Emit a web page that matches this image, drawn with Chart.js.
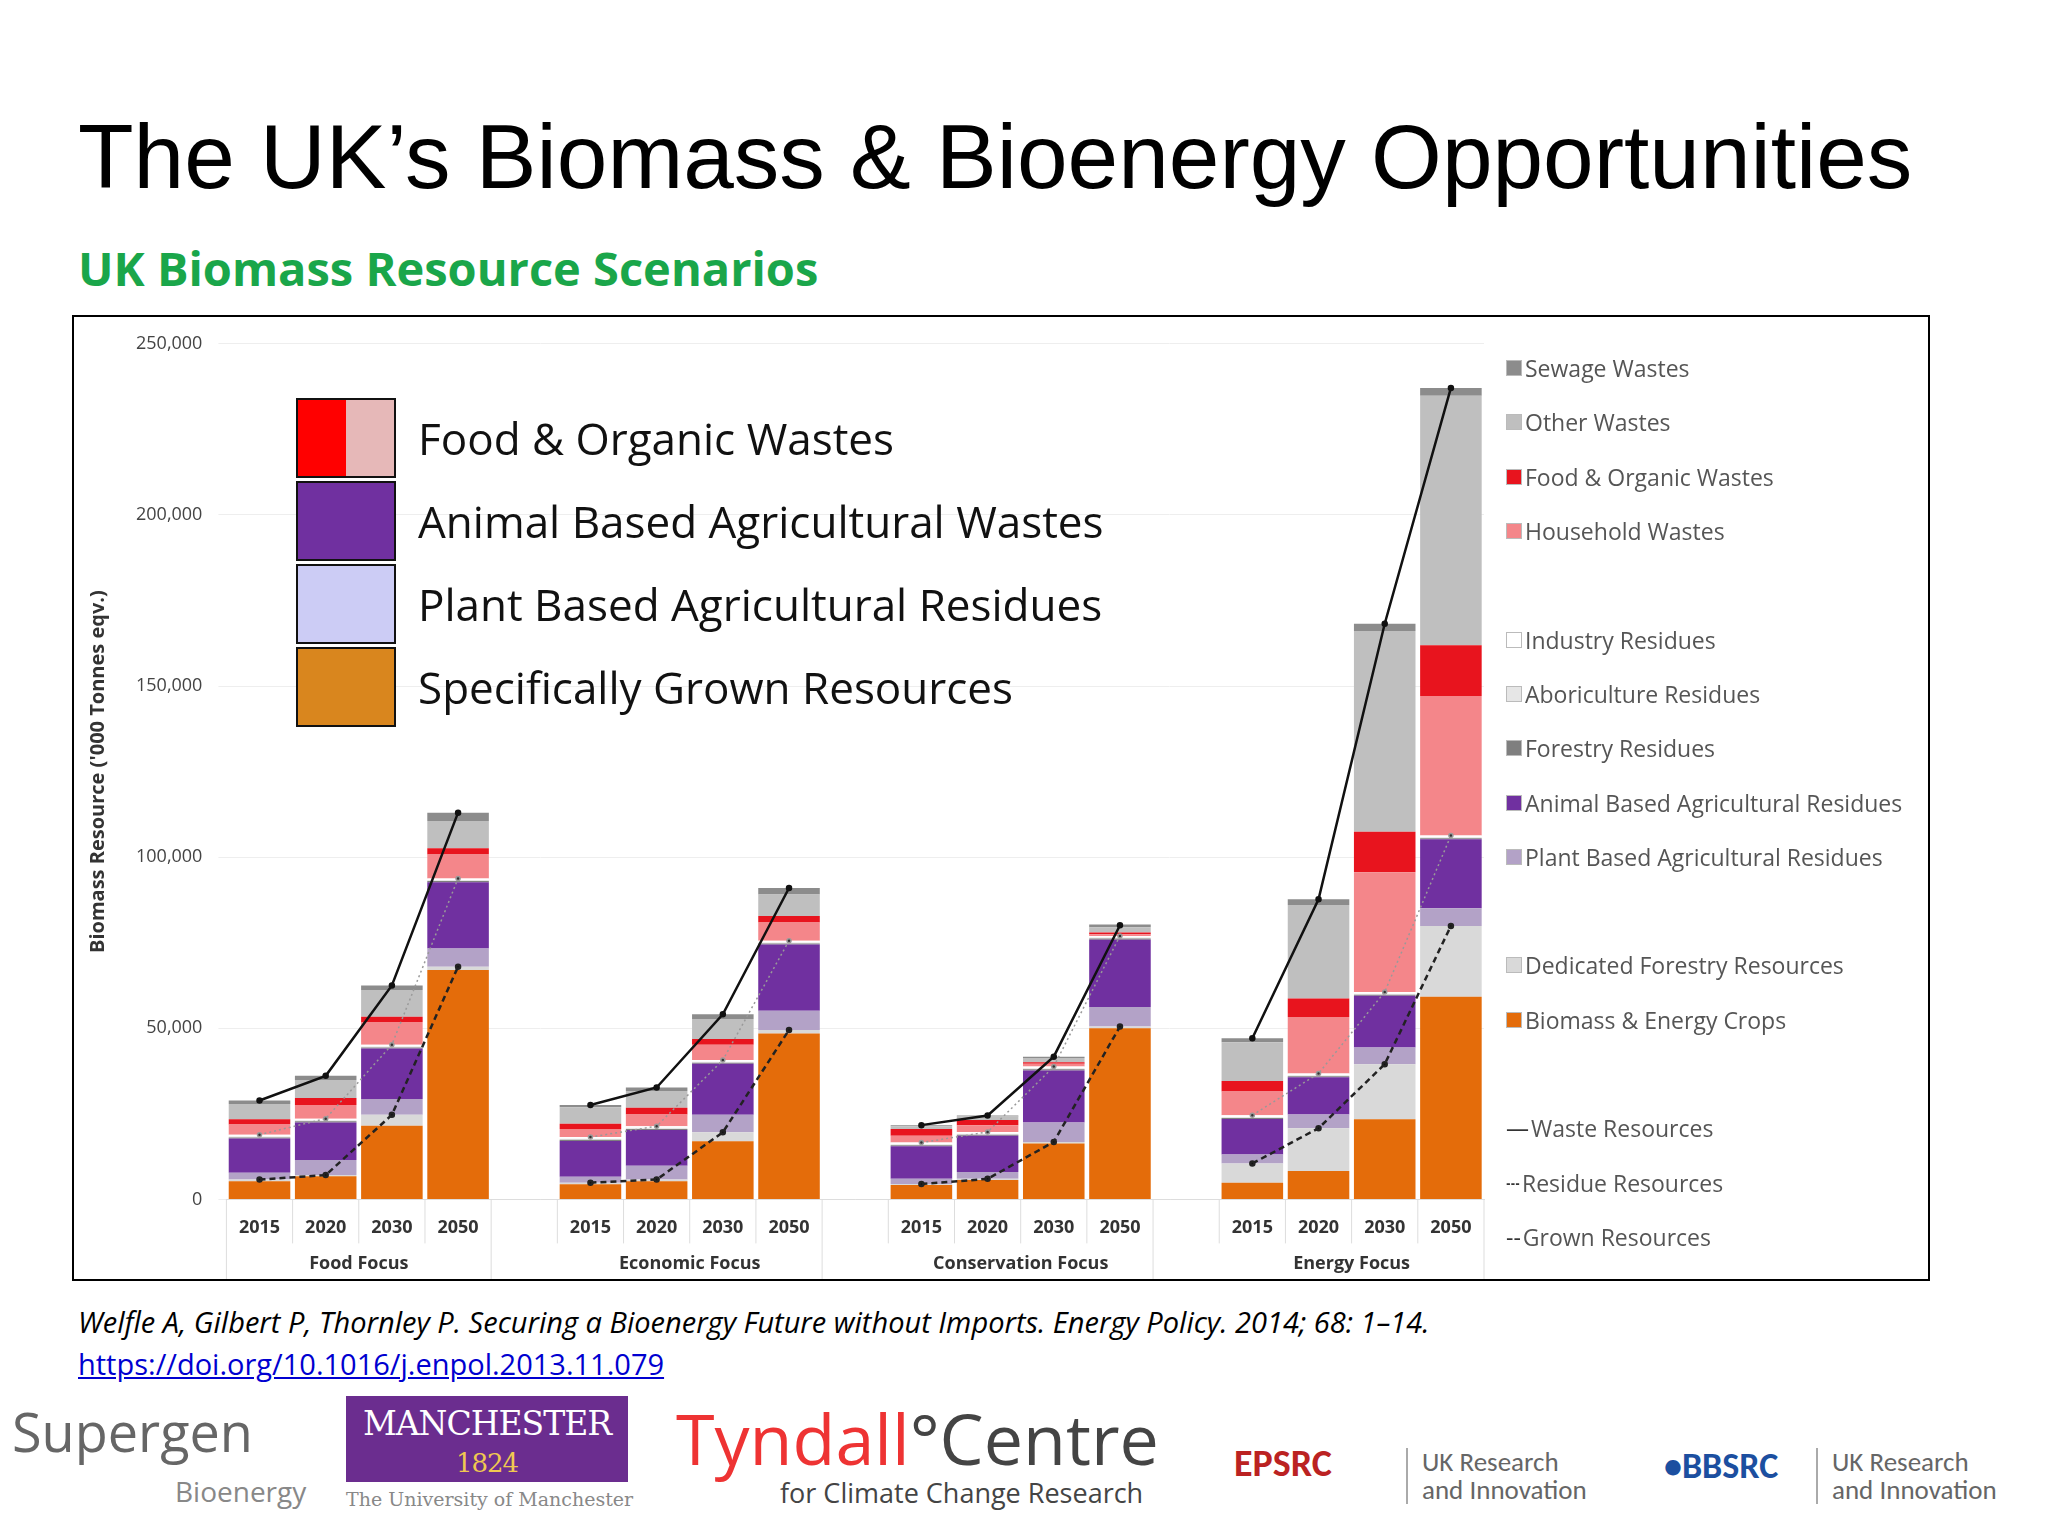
<!DOCTYPE html>
<html><head><meta charset="utf-8">
<script src="https://cdn.jsdelivr.net/npm/chart.js@4.4.1/dist/chart.umd.min.js"></script>
<style>
body{margin:0;width:2048px;height:1536px;background:#fff;font-family:Calibri,"Liberation Sans",Carlito,"Open Sans",sans-serif;position:relative;overflow:hidden}
.abs{position:absolute}
#title{left:78px;top:105px;font-size:91px;font-family:"Liberation Sans",Arial,sans-serif;color:#000}
#sub{left:78px;top:236px;font-size:47px;font-weight:bold;color:#1aa64a;font-family:"Open Sans",sans-serif}
#box{left:72px;top:315px;width:1854px;height:962px;border:2px solid #000}
#wrap{left:74px;top:317px;width:1854px;height:962px}
.leg{font-family:"Open Sans",sans-serif;color:#555;font-size:23px}
.leg div{height:54.3px;display:flex;align-items:center}
.sw{display:inline-block;width:14px;height:14px;margin-right:3px}
.big{font-family:"Open Sans",sans-serif;font-size:44px;color:#111}
.big div{height:83px;display:flex;align-items:center}
.bs{width:100px;height:80px;border:2px solid #111;box-sizing:border-box;margin-right:22px;display:flex}
#cite{left:78px;top:1302px;font-size:29px;font-style:italic;font-family:"Open Sans",sans-serif}
#link{left:78px;top:1344px;font-size:29px;color:#0000d0;text-decoration:underline;font-family:"Open Sans",sans-serif}
</style></head><body>
<div id="title" class="abs">The UK’s Biomass &amp; Bioenergy Opportunities</div>
<div id="sub" class="abs">UK Biomass Resource Scenarios</div>
<div id="box" class="abs"></div>
<div id="wrap" class="abs"><canvas id="chart" width="1854" height="962"></canvas></div>
<div class="abs big" style="left:296px;top:396px">
 <div><span class="bs"><span style="flex:1;background:#ff0000"></span><span style="flex:1;background:#e6b8b8"></span></span>Food &amp; Organic Wastes</div>
 <div><span class="bs" style="background:#7030a0"></span>Animal Based Agricultural Wastes</div>
 <div><span class="bs" style="background:#ccccf5"></span>Plant Based Agricultural Residues</div>
 <div><span class="bs" style="background:#d9861e"></span>Specifically Grown Resources</div>
</div>
<div id="legend" class="abs leg" style="left:1506px;top:341px"></div>
<div id="cite" class="abs">Welfle A, Gilbert P, Thornley P. Securing a Bioenergy Future without Imports. Energy Policy. 2014; 68: 1–14.</div>
<div id="link" class="abs">https://doi.org/10.1016/j.enpol.2013.11.079</div>
<div class="abs" style="left:12px;top:1394px;font-size:54px;color:#666;font-family:'Open Sans',sans-serif">Supergen</div>
<div class="abs" style="left:175px;top:1472px;font-size:28px;color:#888;font-family:'Open Sans',sans-serif">Bioenergy</div>
<div class="abs" style="left:346px;top:1396px;width:282px;height:86px;background:#6b2d8f;color:#fff;font-family:'DejaVu Serif',serif;font-size:33px;text-align:center;line-height:56px;letter-spacing:-1px">MANCHESTER<div style="font-size:26px;line-height:22px;color:#f0c850">1824</div></div>
<div class="abs" style="left:346px;top:1488px;font-size:19px;color:#888;font-family:'DejaVu Serif',serif">The University of Manchester</div>
<div class="abs" style="left:676px;top:1390px;font-size:70px;color:#e33;font-family:'Open Sans',sans-serif">Tyndall<span style="color:#444">°Centre</span></div>
<div class="abs" style="left:780px;top:1474px;font-size:27px;color:#444;font-family:'Open Sans',sans-serif">for Climate Change Research</div>
<div class="abs" style="left:1234px;top:1440px;font-size:38px;font-weight:bold;color:#b22">EPSRC</div>
<div class="abs" style="left:1406px;top:1448px;font-size:27px;color:#666;line-height:28px;border-left:2px solid #aaa;padding-left:14px">UK Research<br>and Innovation</div>
<div class="abs" style="left:1664px;top:1444px;font-size:36px;font-weight:bold;color:#1c4fa0">•BBSRC</div>
<div class="abs" style="left:1816px;top:1448px;font-size:27px;color:#666;line-height:28px;border-left:2px solid #aaa;padding-left:14px">UK Research<br>and Innovation</div>
<script>
const years = ['2015','2020','2030','2050'];
const scenarios = ['Food Focus','Economic Focus','Conservation Focus','Energy Focus'];
// values in thousands of '000 tonnes
const biomassCrops = [5.3,6.8,21.5,67, 4.4,5.3,17,48.5, 4.2,5.7,16.3,50, 4.9,8.3,23.4,59.2];
const dedicatedForestry = [0.5,0.3,3.2,1, 0.5,0.5,2.6,1, 0.3,0.3,0.5,0.5, 5.6,12.5,16.1,20.7];
const plantResidues = [2,4.4,4.6,5.3, 1.7,4,5.1,5.6, 1.5,2,5.7,5.7, 2.6,4,4.9,5.2];
const animalResidues = [10,11,14.8,19.4, 10.5,10.5,14.9,19.4, 9.5,10.6,15.2,19.7, 10.4,10.9,15.1,20.1];
const forestryResidues = [0.3,0.3,0.3,0.3, 0.3,0.3,0.3,0.3, 0.3,0.3,0.3,0.3, 0.3,0.3,0.3,0.3];
const arboricultureResidues = [0.3,0.3,0.3,0.3, 0.3,0.3,0.3,0.3, 0.3,0.3,0.3,0.3, 0.3,0.3,0.3,0.3];
const industryResidues = [0.5,0.5,0.5,0.5, 0.5,0.5,0.5,0.5, 0.5,0.5,0.5,0.5, 0.5,0.5,0.5,0.5];
const householdWastes = [3,4,6.6,7, 2.4,3.4,4.5,5.3, 2,2,0.8,0.5, 6.9,16.5,35,40.8];
const foodWastes = [1.5,2,1.6,1.8, 1.5,2,1.7,1.9, 2,1.5,0.5,0.5, 3.1,5.4,11.8,14.8];
const otherWastes = [4.5,5.3,7.8,8, 4.8,4.9,5.8,6.3, 0.8,1,1.2,1.5, 11.3,27.3,58.7,72.9];
const sewageWastes = [1,1.2,1.3,2.4, 0.7,1,1.4,1.9, 0.3,0.3,0.4,0.8, 1.2,1.7,2.1,2.3];
const wasteLine = [28.9,36.1,62.5,113, 27.6,32.7,54.1,91, 21.7,24.5,41.7,80.1, 47.1,87.7,168.2,237.1];
const residueLine = [18.9,23.6,45.2,93.8, 18.2,21.4,40.7,75.6, 16.6,19.7,38.8,77, 24.6,36.8,60.6,106.3];
const grownLine = [5.8,7.1,24.7,68, 4.9,5.8,19.6,49.5, 4.5,6,16.8,50.5, 10.5,20.8,39.5,79.9];

// 4 groups of 4 with one empty slot between groups
const labels = [];
scenarios.forEach((s,g)=>{ years.forEach(y=>labels.push(y)); if(g<3) labels.push(''); });
function spread(a){ const out=[]; for(let g=0;g<4;g++){ out.push(...a.slice(g*4,g*4+4)); if(g<3) out.push(null);} return out; }

const bars = [
 ['Biomass & Energy Crops', biomassCrops, '#e46c0a'],
 ['Dedicated Forestry Resources', dedicatedForestry, '#d9d9d9'],
 ['Plant Based Agricultural Residues', plantResidues, '#b3a2c7'],
 ['Animal Based Agricultural Residues', animalResidues, '#7030a0'],
 ['Forestry Residues', forestryResidues, '#7f7f7f'],
 ['Aboriculture Residues', arboricultureResidues, '#e6e6e6'],
 ['Industry Residues', industryResidues, '#ffffff'],
 ['Household Wastes', householdWastes, '#f4868a'],
 ['Food & Organic Wastes', foodWastes, '#e8141e'],
 ['Other Wastes', otherWastes, '#bfbfbf'],
 ['Sewage Wastes', sewageWastes, '#8c8c8c'],
];
const datasets = bars.map(b=>({type:'bar',label:b[0],data:spread(b[1]),backgroundColor:b[2],stack:'s',order:2,barPercentage:0.93,categoryPercentage:1}));
datasets.push({type:'line',label:'Waste Resources',stack:'w',data:spread(wasteLine),borderColor:'#111',borderWidth:2.5,pointRadius:2,pointBackgroundColor:'#111',spanGaps:false,order:0});
datasets.push({type:'line',label:'Residue Resources',stack:'r',data:spread(residueLine),borderColor:'#999',borderWidth:1.5,borderDash:[2,3],pointRadius:2,pointBackgroundColor:'#333',spanGaps:false,order:0});
datasets.push({type:'line',label:'Grown Resources',stack:'g',data:spread(grownLine),borderColor:'#222',borderWidth:2.5,borderDash:[6,4],pointRadius:2,pointBackgroundColor:'#111',spanGaps:false,order:0});

const groupLabels = {
  id:'groupLabels',
  afterDraw(chart){
    const {ctx, scales:{x}} = chart;
    ctx.save();
    ctx.font='bold 18px "Open Sans", sans-serif'; ctx.fillStyle='#333'; ctx.textAlign='center';
    scenarios.forEach((s,g)=>{
      const i0=g*5, a=x.getPixelForValue(i0), b=x.getPixelForValue(i0+3);
      ctx.fillText(s,(a+b)/2, chart.chartArea.bottom+70);
    });
    ctx.strokeStyle='#ddd'; ctx.lineWidth=1;
    for(let i=0;i<=labels.length;i++){
      const px=x.getPixelForValue(i)-x.width/labels.length/2;
      ctx.beginPath(); ctx.moveTo(px,chart.chartArea.bottom); ctx.lineTo(px,chart.chartArea.bottom+(i%5===4||i===0||i===labels.length?80:44)); ctx.stroke();
    }
    ctx.restore();
  }
};

new Chart(document.getElementById('chart'), {
  data:{labels, datasets},
  options:{
    responsive:false, animation:false,
    layout:{padding:{left:8,right:444,top:22,bottom:30}},
    plugins:{legend:{display:false},tooltip:{enabled:false}},
    scales:{
      x:{stacked:true, grid:{display:false}, border:{color:'#ddd'},
         ticks:{padding:10,font:{size:18,weight:'bold',family:'"Open Sans", sans-serif'},color:'#333',maxRotation:0,autoSkip:false}},
      y:{stacked:true, min:0, max:250, border:{display:false},
         grid:{color:'#eeeeee'},
         ticks:{stepSize:50,padding:16,font:{size:18,family:'"Open Sans", sans-serif'},color:'#444',callback:v=>(v*1000).toLocaleString('en-US')},
         title:{display:true,text:"Biomass Resource ('000 Tonnes eqv.)",font:{size:20,weight:'bold',family:'"Open Sans", sans-serif'},color:'#333',padding:{bottom:10}}}
    }
  },
  plugins:[groupLabels]
});

const legendItems = [
 ['Sewage Wastes','#8c8c8c','sq'],['Other Wastes','#bfbfbf','sq'],['Food & Organic Wastes','#e8141e','sq'],['Household Wastes','#f4868a','sq'],[null],
 ['Industry Residues','#fff','sq'],['Aboriculture Residues','#e6e6e6','sq'],['Forestry Residues','#7f7f7f','sq'],['Animal Based Agricultural Residues','#7030a0','sq'],['Plant Based Agricultural Residues','#b3a2c7','sq'],[null],
 ['Dedicated Forestry Resources','#d9d9d9','sq'],['Biomass & Energy Crops','#e46c0a','sq'],[null],
 ['Waste Resources','','—'],['Residue Resources','','┄'],['Grown Resources','','--']
];
document.getElementById('legend').innerHTML = legendItems.map(it=>{
  if(!it[0]) return '<div style="height:54.3px"></div>';
  if(it[2]==='sq') return `<div><span class="sw" style="background:${it[1]};border:1px solid #bbb"></span>${it[0].replace('&','&amp;')}</div>`;
  return `<div><span style="color:#333;margin-right:2px">${it[2]}</span>${it[0]}</div>`;
}).join('');
</script>
</body></html>
